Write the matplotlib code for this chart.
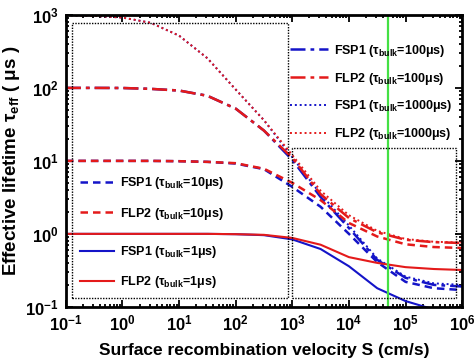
import math
import matplotlib
matplotlib.use("Agg")
import matplotlib.pyplot as plt
from matplotlib.ticker import LogLocator, FuncFormatter, NullFormatter

plt.rcParams['font.family'] = ['Liberation Sans', 'DejaVu Sans']
plt.rcParams['font.weight'] = 'bold'
plt.rcParams['mathtext.fontset'] = 'custom'
plt.rcParams['mathtext.rm'] = 'Liberation Sans:bold'
plt.rcParams['mathtext.bf'] = 'Liberation Sans:bold'
plt.rcParams['mathtext.it'] = 'Liberation Sans:bold'

# ============================
# DATA
# ============================
S = [1e-1, 3.16e-1, 1e0, 3.16e0, 1e1, 3.16e1, 1e2, 3.16e2,
     1e3, 3.16e3, 1e4, 3.16e4, 1e5, 3.16e5, 1e6]

fsp1_1    = [1.0, 1.0, 1.0, 1.0, 1.0, 1.0, 0.99, 0.96, 0.84, 0.62, 0.36, 0.18, 0.12, 0.092, 0.07]
flp2_1    = [1.0, 1.0, 1.0, 1.0, 1.0, 1.0, 0.99, 0.97, 0.88, 0.71, 0.48, 0.40, 0.35, 0.33, 0.32]
fsp1_10   = [10, 10, 10, 10, 9.9, 9.7, 9.2, 7.7, 4.4, 2.35, 1.0, 0.41, 0.22, 0.18, 0.17]
flp2_10   = [10, 10, 10, 10, 9.9, 9.7, 9.3, 7.8, 5.0, 2.9, 1.41, 0.92, 0.72, 0.66, 0.64]
fsp1_100  = [100, 100, 99.7, 97, 92, 78, 52, 26, 10.3, 3.2, 1.2, 0.44, 0.25, 0.20, 0.19]
flp2_100  = [100, 100, 99.7, 97, 92, 78, 52, 26, 11.0, 3.5, 1.65, 1.05, 0.83, 0.77, 0.75]
fsp1_1000 = [990, 970, 920, 780, 520, 255, 95, 36, 11.2, 3.5, 1.3, 0.46, 0.26, 0.21, 0.20]
flp2_1000 = [990, 970, 920, 780, 520, 255, 95, 36, 12.0, 3.9, 1.8, 1.10, 0.85, 0.78, 0.76]

S_mark = 5e4

BLUE = '#1414c8'
RED = '#e41a1a'

# ============================
# PLOT
# ============================
fig = plt.figure(figsize=(4.74, 3.64), dpi=100)
ax = fig.add_axes([0.139, 0.157, 0.836, 0.802])

h_fsp1_100, = ax.plot(S, fsp1_100, color=BLUE, lw=1.8, ls=(0, (6, 2, 1.5, 2)))
h_fsp1_1000, = ax.plot(S, fsp1_1000, color=BLUE, lw=1.4, ls=(0, (1, 1.5)))
h_fsp1_10, = ax.plot(S, fsp1_10, color=BLUE, lw=1.8, ls=(0, (3, 2)))
h_fsp1_1, = ax.plot(S, fsp1_1, color=BLUE, lw=1.5, ls='-')

h_flp2_100, = ax.plot(S, flp2_100, color=RED, lw=1.8, ls=(0, (6, 2, 1.5, 2)))
h_flp2_1000, = ax.plot(S, flp2_1000, color=RED, lw=1.4, ls=(0, (1, 1.5)))
h_flp2_10, = ax.plot(S, flp2_10, color=RED, lw=1.8, ls=(0, (3, 2)))
h_flp2_1, = ax.plot(S, flp2_1, color=RED, lw=1.5, ls='-')

ax.axvline(S_mark, color='#44e044', lw=1.6)

# dotted boxes
ax.plot([0.128, 850, 850, 0.128, 0.128], [0.133, 0.133, 777, 777, 0.133],
        color='black', lw=1.0, ls=(0, (1, 1)))
ax.plot([1.0e3, 7.9e5, 7.9e5, 1.0e3, 1.0e3], [0.133, 0.133, 15, 15, 0.133],
        color='black', lw=1.0, ls=(0, (1, 1)))

ax.set_xscale('log')
ax.set_yscale('log')
ax.set_xlim(1e-1, 1e6)
ax.set_ylim(1e-1, 1e3)

fmt = FuncFormatter(lambda v, p: r"$\mathbf{10^{%d}}$" % round(math.log10(v)))
ax.xaxis.set_major_locator(LogLocator(base=10, numticks=20))
ax.yaxis.set_major_locator(LogLocator(base=10, numticks=20))
ax.xaxis.set_minor_locator(LogLocator(base=10, subs=range(2, 10), numticks=20))
ax.yaxis.set_minor_locator(LogLocator(base=10, subs=range(2, 10), numticks=20))
ax.xaxis.set_major_formatter(fmt)
ax.yaxis.set_major_formatter(fmt)
ax.xaxis.set_minor_formatter(NullFormatter())
ax.yaxis.set_minor_formatter(NullFormatter())
ax.tick_params(which='both', direction='in', top=True, right=True, width=1.3)
ax.tick_params(which='major', length=5, labelsize=12, pad=5)
ax.tick_params(which='minor', length=2.5)
for sp in ax.spines.values():
    sp.set_linewidth(2)

ax.set_xlabel("Surface recombination velocity S (cm/s)", fontsize=12.5, fontweight='bold')
ax.xaxis.set_label_coords(0.5, -0.125)
ax.set_ylabel(r"Effective lifetime τ$_{\mathbf{eff}}$ ( μs )", fontsize=13.5, fontweight='bold')
ax.yaxis.set_label_coords(-0.11, 0.5)

def lab(name, tb):
    return name + r" (τ$_{\mathbf{bulk}}$=" + tb + "μs)"

leg_kw = dict(frameon=False, fontsize=9, borderpad=0, borderaxespad=0,
              handletextpad=0.5)

leg1 = ax.legend([h_fsp1_100, h_flp2_100, h_fsp1_1000, h_flp2_1000],
                 [lab("FSP1", "100"), lab("FLP2", "100"), lab("FSP1", "1000"), lab("FLP2", "1000")],
                 loc='upper left', bbox_to_anchor=(0.566, 0.905), handlelength=3.0,
                 labelspacing=0.95, **leg_kw)
ax.add_artist(leg1)
leg2 = ax.legend([h_fsp1_10, h_flp2_10], [lab("FSP1", "10"), lab("FLP2", "10")],
                 loc='upper left', bbox_to_anchor=(0.035, 0.45), handlelength=2.7,
                 labelspacing=1.15, **leg_kw)
ax.add_artist(leg2)
ax.legend([h_fsp1_1, h_flp2_1], [lab("FSP1", "1"), lab("FLP2", "1")],
          loc='upper left', bbox_to_anchor=(0.035, 0.215), handlelength=2.7,
          labelspacing=1.15, **leg_kw)

fig.savefig("out.png", dpi=100)
